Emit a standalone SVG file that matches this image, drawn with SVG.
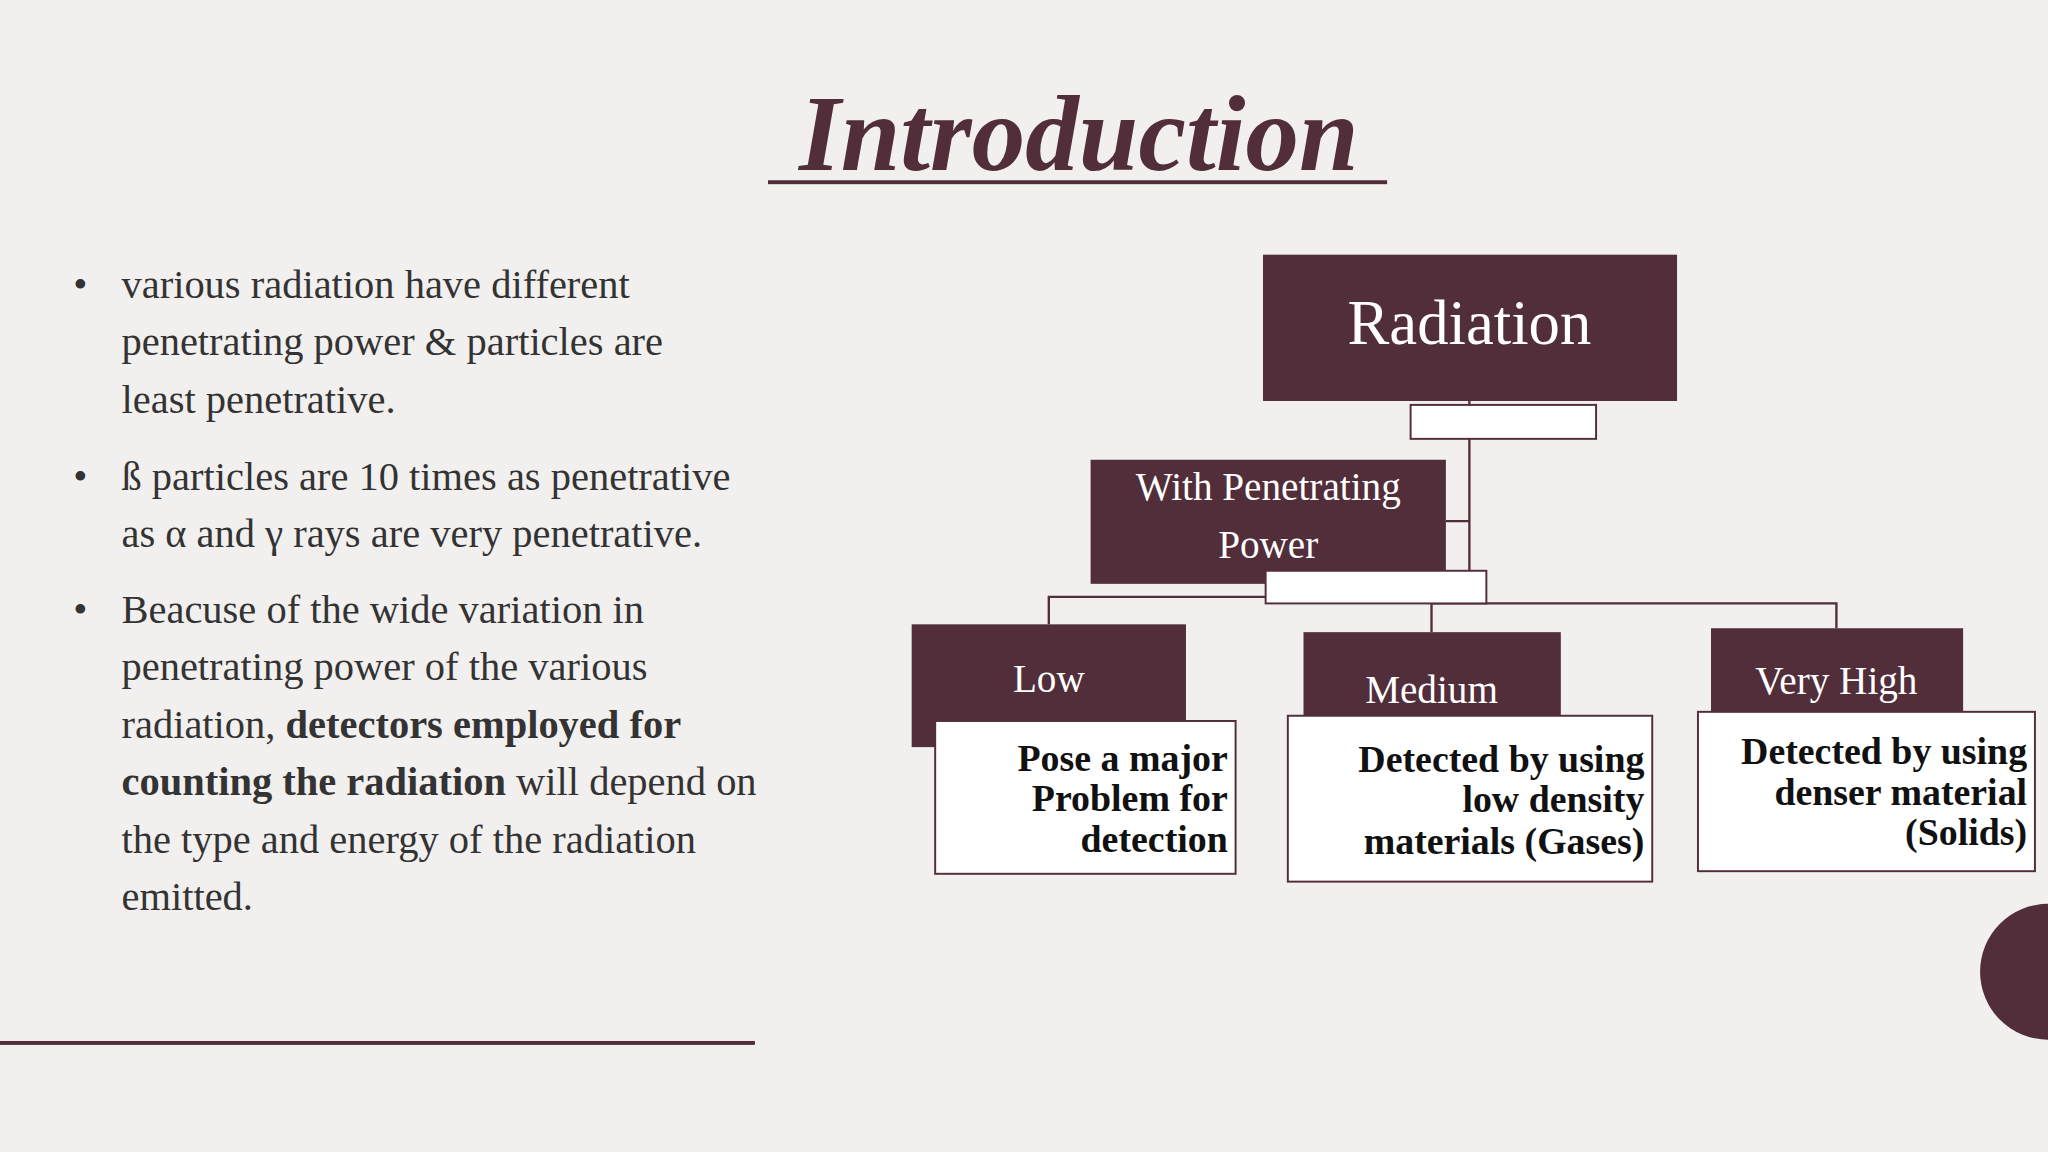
<svg xmlns="http://www.w3.org/2000/svg" width="2048" height="1152" viewBox="0 0 2048 1152">
<style>
.t{font-family:"Liberation Serif","DejaVu Serif",serif;fill:#333}
.b{fill:#522d3a}
.w{fill:#fff;stroke:#522d3a;stroke-width:1.5}
.h{font-family:"Liberation Serif",serif;fill:#fff;text-anchor:middle}
.d{font-family:"Liberation Serif",serif;fill:#111;text-anchor:end;font-size:29px;font-weight:bold}
.c{fill:none;stroke:#522d3a;stroke-width:1.8}
</style>
<rect width="2048" height="1152" fill="#f2efef"/>
<g transform="scale(1.30612)">
<g id="title">
<text x="826" y="130" text-anchor="middle" font-family="Liberation Serif,serif" font-style="italic" font-weight="bold" font-size="82" fill="#522d3a">Introduction</text>
<rect x="588" y="138" width="474" height="3" fill="#522d3a"/>
</g>
<g id="bullets" class="t" font-size="31">
<text x="56" y="228">•</text><text x="93" y="228">various radiation have different</text>
<text x="93" y="272">penetrating power &amp; particles are</text>
<text x="93" y="316">least penetrative.</text>
<text x="56" y="375">•</text><text x="93" y="375">ß particles are 10 times as penetrative</text>
<text x="93" y="419">as α and γ rays are very penetrative.</text>
<text x="56" y="477">•</text><text x="93" y="477">Beacuse of the wide variation in</text>
<text x="93" y="521">penetrating power of the various</text>
<text x="93" y="565">radiation, <tspan font-weight="bold">detectors employed for</tspan></text>
<text x="93" y="609"><tspan font-weight="bold">counting the radiation</tspan> will depend on</text>
<text x="93" y="653">the type and energy of the radiation</text>
<text x="93" y="697">emitted.</text>
</g>
<rect x="0" y="797" width="578" height="3" fill="#522d3a"/>
<circle cx="1568" cy="744" r="52" fill="#522d3a"/>
<g id="connectors">
<path class="c" d="M1125 307V460M1107 399H1125M803 478V457H1125M1096 484V462H1406V481"/>
</g>
<g id="radiation">
<rect class="b" x="967" y="195" width="317" height="112"/>
<text class="h" x="1125" y="263" font-size="48">Radiation</text>
<rect class="w" x="1080" y="310" width="142" height="26"/>
</g>
<g id="penetrating">
<rect class="b" x="835" y="352" width="272" height="95"/>
<text class="h" x="971" y="383" font-size="30">With Penetrating</text>
<text class="h" x="971" y="427" font-size="30">Power</text>
<rect class="w" x="969" y="437" width="169" height="25"/>
</g>
<g id="low">
<rect class="b" x="698" y="478" width="210" height="94"/>
<text class="h" x="803" y="530" font-size="30">Low</text>
<rect class="w" x="716" y="552" width="230" height="117"/>
<text class="d" x="940" y="590">Pose a major</text>
<text class="d" x="940" y="621">Problem for</text>
<text class="d" x="940" y="652">detection</text>
</g>
<g id="medium">
<rect class="b" x="998" y="484" width="197" height="76"/>
<text class="h" x="1096" y="538" font-size="30">Medium</text>
<rect class="w" x="986" y="548" width="279" height="127"/>
<text class="d" x="1259" y="591">Detected by using</text>
<text class="d" x="1259" y="622">low density</text>
<text class="d" x="1259" y="654">materials (Gases)</text>
</g>
<g id="veryhigh">
<rect class="b" x="1310" y="481" width="193" height="66"/>
<text class="h" x="1406" y="531" font-size="30">Very High</text>
<rect class="w" x="1300" y="545" width="258" height="122"/>
<text class="d" x="1552" y="585">Detected by using</text>
<text class="d" x="1552" y="616">denser material</text>
<text class="d" x="1552" y="647">(Solids)</text>
</g>
</g>
</svg>
